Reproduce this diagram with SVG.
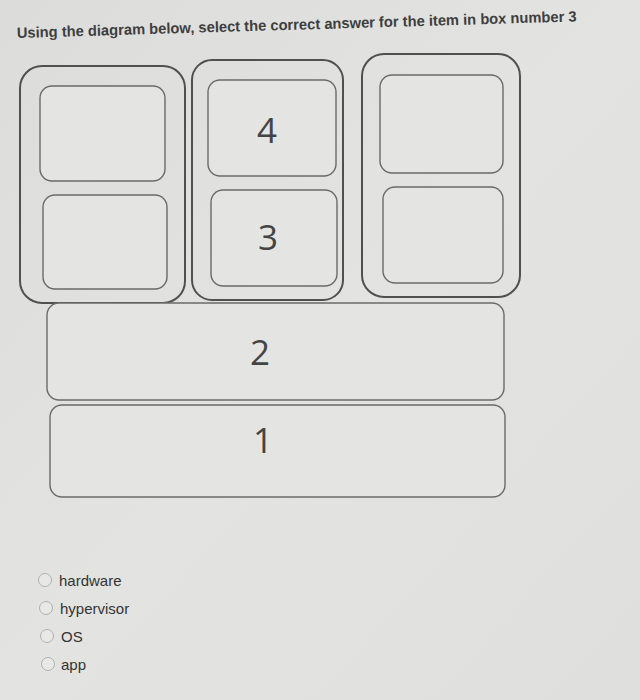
<svg xmlns="http://www.w3.org/2000/svg" width="640" height="700" viewBox="0 0 640 700">
<defs>
<linearGradient id="bg" x1="0" y1="0" x2="1" y2="1">
<stop offset="0" stop-color="#dcdddb"/>
<stop offset="0.5" stop-color="#e3e4e2"/>
<stop offset="1" stop-color="#dfe0de"/>
</linearGradient>
</defs>
<style>
.outer{fill:none;stroke:#505050;stroke-width:2}
.inner{fill:#e4e5e3;stroke:#6a6a6a;stroke-width:1.4}
.wide{fill:#e4e5e3;stroke:#6a6a6a;stroke-width:1.4}
.num{font-family:"Open Sans","Noto Sans",sans-serif;font-size:35px;fill:#444;text-anchor:middle}
.title{font-family:"Liberation Sans",Arial,sans-serif;font-size:15px;font-weight:bold;fill:#3e3e3e}
.opt{font-family:"Liberation Sans",Arial,sans-serif;font-size:15px;fill:#333}
.radio{fill:#e8e9e7;stroke:#b0b0b0;stroke-width:1}
</style>
<rect width="640" height="700" fill="url(#bg)"/>
<text class="title" x="17" y="38" textLength="560" lengthAdjust="spacingAndGlyphs" transform="rotate(-1.7 17 38)">Using the diagram below, select the correct answer for the item in box number 3</text>
<g id="container-left">
<rect class="outer" x="20" y="66" width="165" height="237" rx="22"/>
<rect class="inner" x="40" y="86" width="125" height="95" rx="12"/>
<rect class="inner" x="43" y="195" width="124" height="94" rx="12"/>
</g>
<g id="container-middle">
<rect class="outer" x="192" y="60" width="151" height="240" rx="20"/>
<g id="box4"><rect class="inner" x="208" y="80" width="128" height="96" rx="12"/><text class="num" x="267" y="143">4</text></g>
<g id="box3"><rect class="inner" x="211" y="190" width="126" height="96" rx="12"/><text class="num" x="268" y="250">3</text></g>
</g>
<g id="container-right">
<rect class="outer" x="362" y="54" width="158" height="243" rx="22"/>
<rect class="inner" x="380" y="75" width="123" height="98" rx="12"/>
<rect class="inner" x="383" y="187" width="120" height="96" rx="12"/>
</g>
<g id="box2"><rect class="wide" x="47" y="303" width="457" height="97" rx="12"/><text class="num" x="260" y="365">2</text></g>
<g id="box1"><rect class="wide" x="50" y="405" width="455" height="92" rx="12"/><text class="num" x="263" y="453">1</text></g>
<g id="options">
<circle class="radio" cx="45" cy="580" r="6.5"/><text class="opt" x="59" y="586">hardware</text>
<circle class="radio" cx="46" cy="608" r="6.5"/><text class="opt" x="60" y="614">hypervisor</text>
<circle class="radio" cx="47" cy="636" r="6.5"/><text class="opt" x="61" y="642">OS</text>
<circle class="radio" cx="48" cy="664" r="6.5"/><text class="opt" x="61" y="670">app</text>
</g>
</svg>
